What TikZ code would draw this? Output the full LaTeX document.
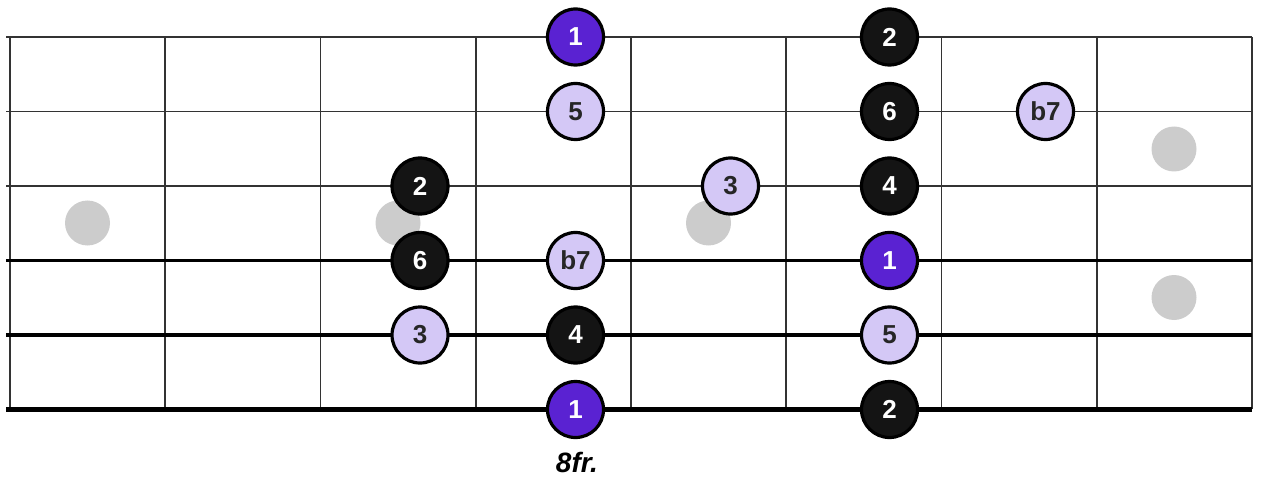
\documentclass[tikz,border=0pt]{standalone}
\usepackage{fontspec}
\setmainfont{Liberation Sans}
\definecolor{rootc}{HTML}{5A22D2}
\definecolor{lightc}{HTML}{D4C8F6}
\definecolor{dotc}{HTML}{CCCCCC}
\definecolor{linec}{HTML}{333333}
\begin{document}
\begin{tikzpicture}[x=1pt,y=-1pt,
  note/.style={circle,minimum size=56pt,inner sep=0pt,line width=3.2pt,draw=black,font=\fontsize{26}{26}\selectfont\bfseries},
  rootn/.style={note,fill=rootc,text=white},
  blackn/.style={note,fill=black!92,text=white},
  lightn/.style={note,fill=lightc,text=black!85},
  inlay/.style={circle,fill=dotc,minimum size=45pt,inner sep=0pt},
  fretl/.style={draw=linec,line width=1.8pt},
]
\useasboundingbox (0,0) rectangle (1263,489);
% frets
\foreach \x [count=\i] in {10,165.25,320.5,475.75,631,786.25,941.5,1096.75,1252}{
  \coordinate (ft\i) at (\x,37);
  \coordinate (fb\i) at (\x,409);
  \draw[fretl] (ft\i) -- (fb\i);
}
% strings
\foreach \y/\w/\c [count=\i] in {37/1.8/linec,111.5/1.8/linec,186/2/linec,260.5/2.4/black,335/3.6/black,409.5/5/black}{
  \coordinate (sl\i) at (6,\y);
  \coordinate (sr\i) at (1252,\y);
  \draw[draw=\c,line width=\w pt] (sl\i) -- (sr\i);
}
% inlays
\node[inlay] (d5) at (87.5,223) {};
\node[inlay] (d7) at (398,223) {};
\node[inlay] (d9) at (708.5,223) {};
\node[inlay] (d12a) at (1174,149) {};
\node[inlay] (d12b) at (1174,297.5) {};
% notes
\node[rootn]  (n1a) at (575.5,37) {1};
\node[blackn] (n1b) at (889.5,37) {2};
\node[lightn] (n2a) at (575.5,111.5) {5};
\node[blackn] (n2b) at (889.5,111.5) {6};
\node[lightn] (n2c) at (1045.5,111.5) {b7};
\node[blackn] (n3a) at (420,186) {2};
\node[lightn] (n3b) at (730.5,186) {3};
\node[blackn] (n3c) at (889.5,186) {4};
\node[blackn] (n4a) at (420,260.5) {6};
\node[lightn] (n4b) at (575.5,260.5) {b7};
\node[rootn]  (n4c) at (889.5,260.5) {1};
\node[lightn] (n5a) at (420,335) {3};
\node[blackn] (n5b) at (575.5,335) {4};
\node[lightn] (n5c) at (889.5,335) {5};
\node[rootn]  (n6a) at (575.5,409.5) {1};
\node[blackn] (n6b) at (889.5,409.5) {2};
% fret label
\node[font=\fontsize{28}{28}\selectfont\bfseries\itshape] (fr) at (577,462) {8fr.};
\end{tikzpicture}
\end{document}
